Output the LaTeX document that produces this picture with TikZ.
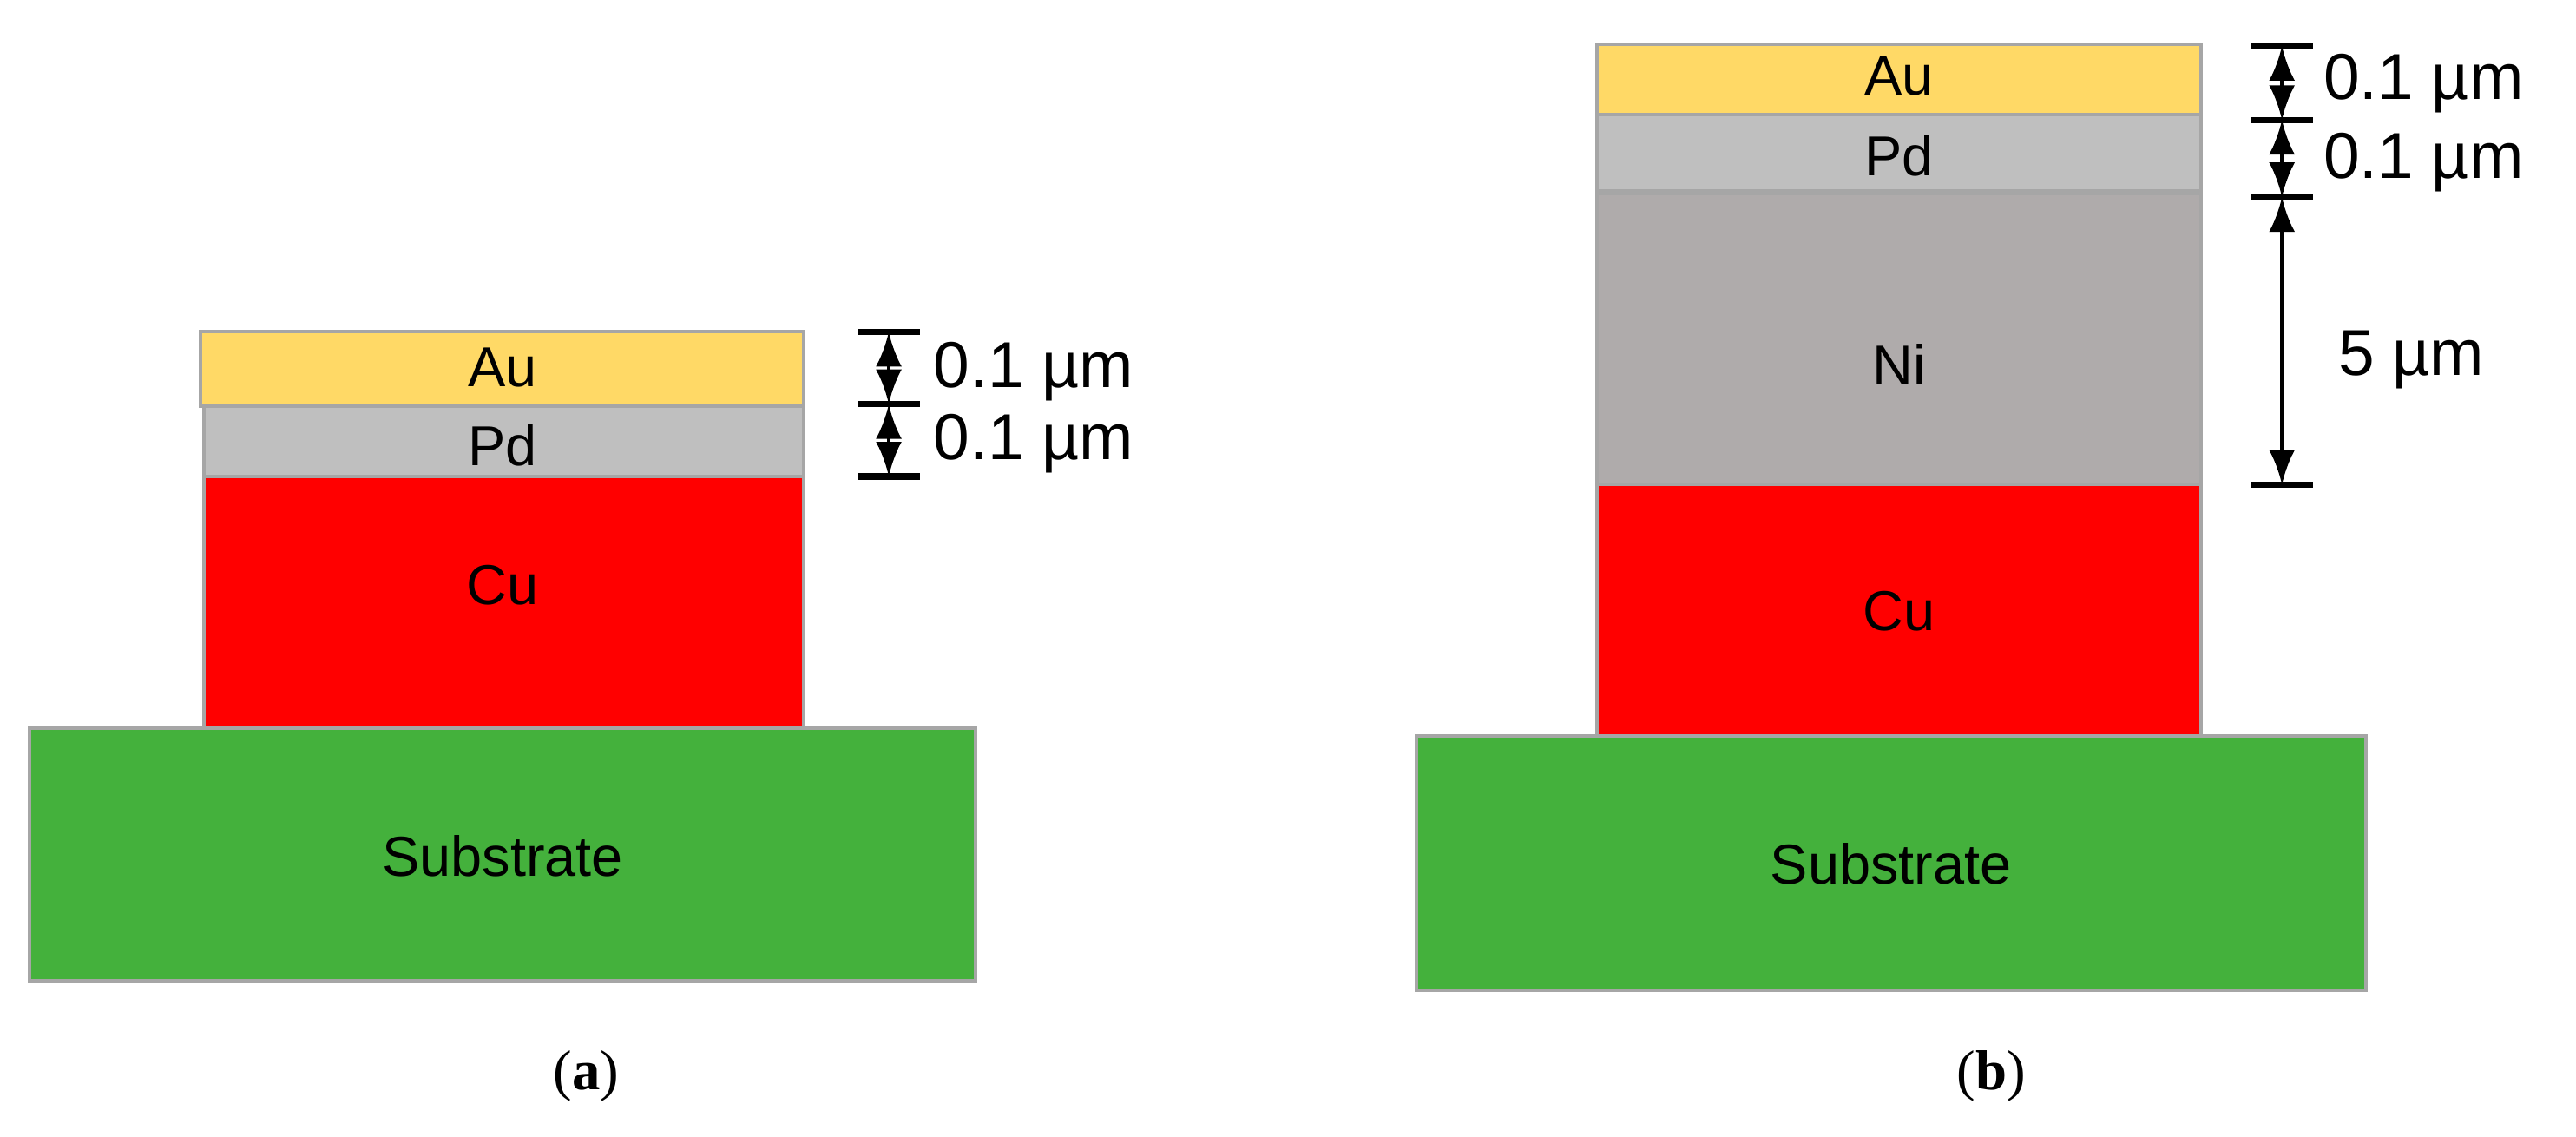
\documentclass[tikz,border=0pt]{standalone}
\usepackage{fontspec}
\setmainfont{Liberation Sans}
\newfontfamily\capfont{Liberation Serif}
\usetikzlibrary{arrows.meta}
\definecolor{au}{HTML}{FFD966}
\definecolor{pd}{HTML}{BFBFBF}
\definecolor{ni}{HTML}{AFABAB}
\definecolor{cu}{HTML}{FF0000}
\definecolor{sub}{HTML}{44B13C}
\definecolor{edge}{HTML}{A6A6A6}
\tikzset{
 layer/.style={draw=edge,line width=1.2pt},
 lbl/.style={font=\fontsize{19.5}{22}\selectfont},
 dimlbl/.style={font=\fontsize{22.5}{26}\selectfont,anchor=west,inner sep=0pt},
 dimarr/.style={line width=1.3pt,{Latex[length=12pt,width=9pt]}-{Latex[length=12pt,width=9pt]}},
 tickmark/.style={line width=2.2pt},
 captext/.style={font=\capfont\fontsize{19.5}{22}\selectfont}
}
\begin{document}
\begin{tikzpicture}[x=0.02cm,y=-0.02cm]
\useasboundingbox (0,0) rectangle (1568,692);
% (a)
\draw[layer,fill=sub] (18,443) rectangle (594,597);
\node[lbl] (subA) at (306,521) {Substrate};
\draw[layer,fill=cu] (124,290) rectangle (489,443);
\node[lbl] (cuA) at (306,356) {Cu};
\draw[layer,fill=pd] (124,247) rectangle (489,290);
\node[lbl] (pdA) at (306,271) {Pd};
\draw[layer,fill=au] (122,202) rectangle (489,247);
\node[lbl] (auA) at (306,224) {Au};
\coordinate (a1) at (541,202); \coordinate (a2) at (541,246); \coordinate (a3) at (541,290);
\draw[tickmark] (522,202) -- (560,202);
\draw[tickmark] (522,246) -- (560,246);
\draw[tickmark] (522,290) -- (560,290);
\draw[dimarr] (a1) -- (a2);
\draw[dimarr] (a2) -- (a3);
\node[dimlbl] (la1) at (568,226) {0.1 µm};
\node[dimlbl] (la2) at (568,270) {0.1 µm};
\node[captext] (capA) at (357,655) {(\textbf{a})};
% (b)
\draw[layer,fill=sub] (862,448) rectangle (1440,603);
\node[lbl] (subB) at (1151,526) {Substrate};
\draw[layer,fill=cu] (972,295) rectangle (1340,448);
\node[lbl] (cuB) at (1156,372) {Cu};
\draw[layer,fill=ni] (972,118) rectangle (1340,295);
\node[lbl] (niB) at (1156,222) {Ni};
\draw[layer,fill=pd] (972,70) rectangle (1340,116);
\node[lbl] (pdB) at (1156,95) {Pd};
\draw[layer,fill=au] (972,27) rectangle (1340,70);
\node[lbl] (auB) at (1156,46) {Au};
\coordinate (b1) at (1389,28); \coordinate (b2) at (1389,73); \coordinate (b3) at (1389,120); \coordinate (b4) at (1389,295);
\draw[tickmark] (1370,28) -- (1408,28);
\draw[tickmark] (1370,73) -- (1408,73);
\draw[tickmark] (1370,120) -- (1408,120);
\draw[tickmark] (1370,295) -- (1408,295);
\draw[dimarr] (b1) -- (b2);
\draw[dimarr] (b2) -- (b3);
\draw[dimarr] (b3) -- (b4);
\node[dimlbl] (lb1) at (1414,51) {0.1 µm};
\node[dimlbl] (lb2) at (1414,99) {0.1 µm};
\node[dimlbl] (lb3) at (1423,219) {5 µm};
\node[captext] (capB) at (1212,655) {(\textbf{b})};
\end{tikzpicture}
\end{document}
